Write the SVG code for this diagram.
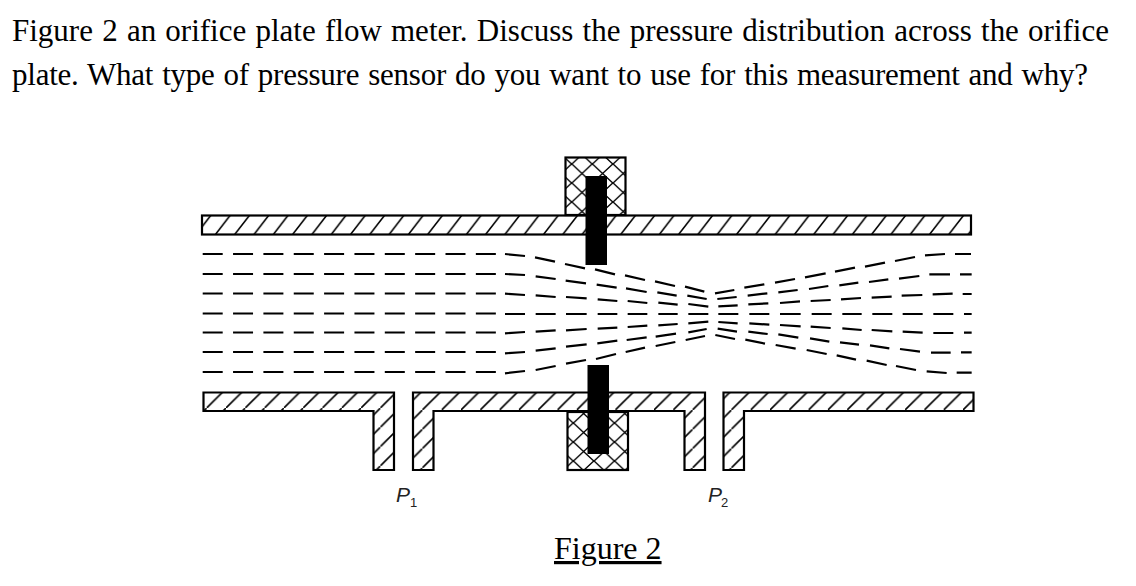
<svg xmlns="http://www.w3.org/2000/svg" width="1136" height="586" viewBox="0 0 1136 586">
<style>
.t{font-family:"Liberation Serif","Times New Roman",serif;font-size:31px;fill:#000;word-spacing:1.5px}
.c{font-family:"Liberation Serif","Times New Roman",serif;font-size:32px;fill:#000;text-decoration:underline;text-decoration-skip-ink:none}
.l{font-family:"Liberation Sans",Arial,sans-serif;font-style:italic;font-size:21px;fill:#222}
.s{font-family:"Liberation Sans",Arial,sans-serif;font-size:13px;fill:#222}
.w{stroke:#000;stroke-width:2.2;stroke-linejoin:miter}
.d{fill:none;stroke:#000;stroke-width:2.2}
.z{fill:none;stroke:#000;stroke-width:6.6}
.h{fill:none;stroke:#000;stroke-width:1.6}
.x{fill:none;stroke:#000;stroke-width:1.4}
</style>
<defs>
<pattern id="hTop" patternUnits="userSpaceOnUse" width="19.3" height="25" patternTransform="translate(215 235)"><rect width="19.3" height="25" fill="#fff"/><path class="h" d="M-2 27.6L21.3-2.6"/></pattern>
<pattern id="hBot1" patternUnits="userSpaceOnUse" width="19.3" height="19.3" patternTransform="translate(206.7 408)"><rect width="19.3" height="19.3" fill="#fff"/><path class="h" d="M-2 21.3L21.3-2"/></pattern>
<pattern id="hBot2" patternUnits="userSpaceOnUse" width="19.3" height="19.3" patternTransform="translate(441.7 410)"><rect width="19.3" height="19.3" fill="#fff"/><path class="h" d="M-2 21.3L21.3-2"/></pattern>
<pattern id="hBot3" patternUnits="userSpaceOnUse" width="19.3" height="19.3" patternTransform="translate(770 410)"><rect width="19.3" height="19.3" fill="#fff"/><path class="h" d="M-2 21.3L21.3-2"/></pattern>
<pattern id="xTop" patternUnits="userSpaceOnUse" width="20.6" height="19" patternTransform="translate(571.7 183)"><rect width="20.6" height="19" fill="#fff"/><path class="x" d="M-2 21L22.6-2M-2-2L22.6 21"/></pattern>
<pattern id="xBot" patternUnits="userSpaceOnUse" width="20.6" height="19" patternTransform="translate(573.3 423)"><rect width="20.6" height="19" fill="#fff"/><path class="x" d="M-2 21L22.6-2M-2-2L22.6 21"/></pattern>
</defs>
<rect width="1136" height="586" fill="#fff"/>
<g id="question">
<text class="t" x="12" y="41" textLength="1097" lengthAdjust="spacing">Figure 2 an orifice plate flow meter. Discuss the pressure distribution across the orifice</text>
<text class="t" x="12" y="85" textLength="1076" lengthAdjust="spacing">plate. What type of pressure sensor do you want to use for this measurement and why?</text>
</g>
<g id="pipe-top">
<rect class="w" x="202" y="215.5" width="769" height="19" fill="url(#hTop)"/>
</g>
<g id="pipe-bottom">
<path class="w" fill="url(#hBot1)" d="M203.5 392.5H394V470H373.5V411H203.5Z"/>
<path class="w" fill="url(#hBot2)" d="M413 392.5H705V470H684.5V411H433.5V470H413Z"/>
<path class="w" fill="url(#hBot3)" d="M723.5 392.5H973.5V411H744V470H723.5Z"/>
</g>
<g id="clamp-top"><rect class="w" x="565.5" y="157.5" width="60" height="57.5" fill="url(#xTop)"/></g>
<g id="clamp-bottom"><rect class="w" x="567.5" y="412" width="60.5" height="58" fill="url(#xBot)"/></g>
<g id="plate-top"><rect x="585.5" y="176" width="21.5" height="89" fill="#000"/></g>
<g id="plate-bottom"><rect x="587.5" y="365" width="21.5" height="89" fill="#000"/></g>
<g id="streamlines">
<path class="d" stroke-dasharray="20 10.35" d="M202.7 254H496"/>
<path class="d" stroke-dasharray="20 10.35" d="M202.7 274H496"/>
<path class="d" stroke-dasharray="20 10.35" d="M202.7 293.5H496"/>
<path class="d" stroke-dasharray="20 10.35" d="M202.7 313.5H496"/>
<path class="d" stroke-dasharray="20 10.35" d="M202.7 332.5H496"/>
<path class="d" stroke-dasharray="20 10.35" d="M202.7 352H496"/>
<path class="d" stroke-dasharray="20 10.35" d="M202.7 372H496"/>
<g transform="translate(560 150) scale(.33333)">
<path class="z" d="M-165 312L-105 318M-75 322L-15 335M15 342L75 355M105 358L165 373M195 376L255 390M285 394L345 408M375 410L433 425M465 430L523 420M553 413L613 403M645 398L705 387M735 382L797 370M825 365L885 353M915 350L975 338M1005 333L1065 321M1095 316L1155 312M1185 312L1233 312"/>
<path class="z" d="M-165 372L-105 375M-73 379L-13 387M17 392L78 400M110 404L170 413M198 415L260 426M292 427L350 437M382 437L440 447M472 447L530 441M563 437L622 430M655 427L713 420M747 417L805 408M838 406L895 398M927 396L985 388M1017 386L1078 378M1108 373L1170 373M1200 373L1235 373"/>
<path class="z" d="M-165 431L-105 435M-73 436L-13 441M18 441L80 445M113 448L172 453M203 453L262 459M295 458L353 464M385 462L445 470M475 469L533 466M565 463L625 460M660 459L720 454M752 453L812 450M843 448L903 444M935 443L995 440M1025 437L1087 435M1118 433L1178 431M1208 432L1235 432"/>
<path class="z" d="M-165 492L-105 492M-73 492L-13 492M18 492L80 492M113 492L172 492M203 492L262 492M295 492L353 492M385 492L445 492M475 492L535 492M568 492L628 492M660 492L722 492M755 492L815 492M847 492L905 492M937 492L997 492M1028 492L1088 492M1120 492L1180 492M1212 492L1235 492"/>
<path class="z" d="M-165 550L-105 546M-73 545L-13 541M18 541L80 537M113 536L172 533M203 531L262 527M295 526L353 522M385 520L445 515M475 516L533 520M568 520L628 524M660 525L722 529M752 530L812 534M847 535L905 540M935 540L997 544M1028 545L1088 548M1120 549L1180 549M1212 548L1235 548"/>
<path class="z" d="M-165 610L-105 606M-73 602L-13 595M18 590L80 583M112 580L172 572M200 570L260 562M287 560L348 551M385 547L440 537M473 536L531 545M565 545L623 552M655 553L715 563M750 565L808 575M840 577L897 584M930 586L988 595M1020 597L1080 605M1113 608L1172 608M1203 607L1235 607"/>
<path class="z" d="M-165 670L-105 663M-73 660L-13 648M18 641L78 630M108 627L168 612M197 606L255 593M287 588L346 576M377 570L435 558M466 555L525 567M556 569L615 581M647 585L707 596M740 600L800 612M830 616L888 629M920 632L980 645M1008 648L1068 660M1100 664L1160 669M1190 668L1235 668"/>
</g>
</g>
<g id="label-p1"><text class="l" x="396" y="502">P</text><text class="s" x="410" y="507">1</text></g>
<g id="label-p2"><text class="l" x="708" y="502">P</text><text class="s" x="721" y="507">2</text></g>
<g id="caption"><text class="c" x="554" y="559">Figure 2</text></g>
</svg>
